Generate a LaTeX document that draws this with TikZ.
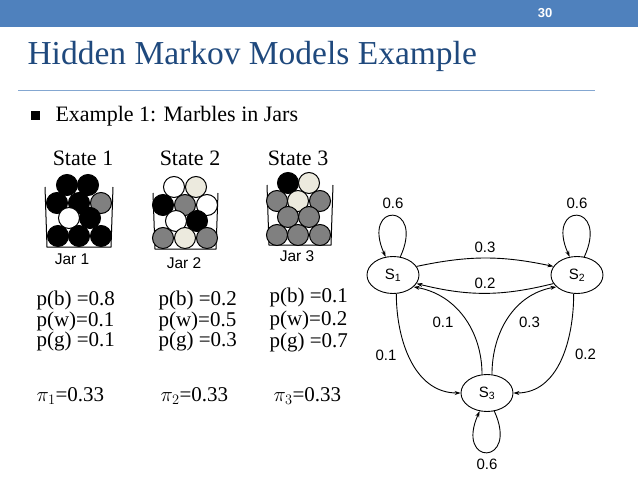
\documentclass[tikz,border=0pt]{standalone}
\usepackage{fontspec}
\setmainfont{Liberation Serif}
\newfontfamily\arialf{Liberation Sans}
\usetikzlibrary{shapes.geometric,arrows.meta}
\definecolor{barblue}{RGB}{79,129,189}
\definecolor{titleblue}{RGB}{31,73,125}
\definecolor{ivory}{RGB}{236,234,222}
\definecolor{marblegray}{RGB}{128,128,128}
\tikzset{
  mb/.style={circle,draw=black,line width=1pt,minimum size=21pt,inner sep=0pt},
  B/.style={mb,fill=black}, W/.style={mb,fill=white}, G/.style={mb,fill=marblegray}, I/.style={mb,fill=ivory},
  jar/.style={line width=1pt},
  st/.style={ellipse,draw,line width=0.9pt,minimum width=52pt,minimum height=37pt,inner sep=0pt,font=\arialf\fontsize{15}{17}\selectfont},
  edge/.style={-{Stealth[length=6pt,width=4pt]},line width=0.9pt},
  lab/.style={font=\arialf\fontsize{15}{17}\selectfont},
  big/.style={font=\fontsize{22}{24}\selectfont,anchor=west},
  jl/.style={font=\arialf\fontsize{15.5}{17}\selectfont},
  pr/.style={anchor=west,align=left,font=\fontsize{21}{19}\selectfont}
}
\begin{document}
\begin{tikzpicture}[x=1pt,y=-1pt]
\useasboundingbox (0,0) rectangle (638,479);
\fill[barblue] (0,0) rectangle (638,27);
\node[text=white,font=\arialf\bfseries\fontsize{13}{14}\selectfont] (pg) at (545,13) {30};
\node[anchor=west,text=titleblue,font=\fontsize{33.5}{36}\selectfont] (title) at (24,56) {Hidden Markov Models Example};
\draw[barblue!70,line width=0.8pt] (18,90) -- (595,90);
\fill (31,111) rectangle (40,120);
\node[big] (ex) at (52,116) {Example 1: Marbles in Jars};
\node[font=\fontsize{22}{24}\selectfont] (s1l) at (83,158) {State 1};
\node[font=\fontsize{22}{24}\selectfont] (s2l) at (190,158) {State 2};
\node[font=\fontsize{22}{24}\selectfont] (s3l) at (298,158) {State 3};
% jar 1
\draw[jar] (45,187) -- (47,247) -- (111,247) -- (113,187);
\foreach \x/\y/\c in {67/185/B,88/185/B,57/203/B,79/203/B,101/203/G,69/218/W,90/218/B,58/236/B,79/236/B,101/236/B}
  \node[\c] at (\x,\y) {};
% jar 2
\draw[jar] (153,193) -- (155,249) -- (216,249) -- (218,193);
\foreach \x/\y/\c in {174/187/W,196/187/I,163/205/B,185/205/G,207/205/W,176/221/W,197/221/B,163/238/G,185/238/I,207/238/G}
  \node[\c] at (\x,\y) {};
% jar 3
\draw[jar] (267,185) -- (269,245) -- (331,245) -- (333,185);
\foreach \x/\y/\c in {288/183/B,309/183/I,277/201/G,298/201/I,320/201/G,288/217/G,309/217/G,277/235/G,298/235/G,320/235/G}
  \node[\c] at (\x,\y) {};
\node[jl] (j1) at (72,259) {Jar 1};
\node[jl] (j2) at (184,263) {Jar 2};
\node[jl] (j3) at (297,256) {Jar 3};
% probabilities
\node[pr] (p1) at (33,321) {p(b) =0.8\\p(w)=0.1\\p(g) =0.1};
\node[pr] (p2) at (155,321) {p(b) =0.2\\p(w)=0.5\\p(g) =0.3};
\node[pr,font=\fontsize{21}{22.5}\selectfont] (p3) at (266,320) {p(b) =0.1\\p(w)=0.2\\p(g) =0.7};
\node[pr] (pi1) at (33,396) {$\pi_1$=0.33};
\node[pr] (pi2) at (157,396) {$\pi_2$=0.33};
\node[pr] (pi3) at (270,396) {$\pi_3$=0.33};
% graph
\node[st] (S1) at (393,275) {S\textsubscript{1}};
\node[st] (S2) at (577,275) {S\textsubscript{2}};
\node[st] (S3) at (487,393) {S\textsubscript{3}};
\draw[edge] (S1.68) .. controls +(25,-55) and +(-25,-55) .. node[lab,above=3pt] {0.6} (S1.112);
\draw[edge] (S2.68) .. controls +(25,-55) and +(-25,-55) .. node[lab,above=3pt] {0.6} (S2.112);
\draw[edge] (S3.-68) .. controls +(25,55) and +(-25,55) .. node[lab,below=3pt] {0.6} (S3.-112);
\draw[edge] (S1.20) to[bend left=12] node[lab,above=2pt] {0.3} (S2.160);
\draw[edge] (S2.-160) to[bend left=14] node[lab,above=1pt] {0.2} (S1.-20);
\draw[edge] (S1.-80) to[out=-90,in=180] node[lab,pos=0.45,left=8pt] {0.1} (S3.180);
\draw[edge] (S3.105) to[out=90,in=-10] node[lab,pos=0.45,left=10pt] {0.1} (S1.-30);
\draw[edge] (S2.-100) to[out=-90,in=0] node[lab,pos=0.45,right=8pt] {0.2} (S3.0);
\draw[edge] (S3.75) to[out=90,in=190] node[lab,pos=0.45,right=10pt] {0.3} (S2.-150);
\end{tikzpicture}
\end{document}
